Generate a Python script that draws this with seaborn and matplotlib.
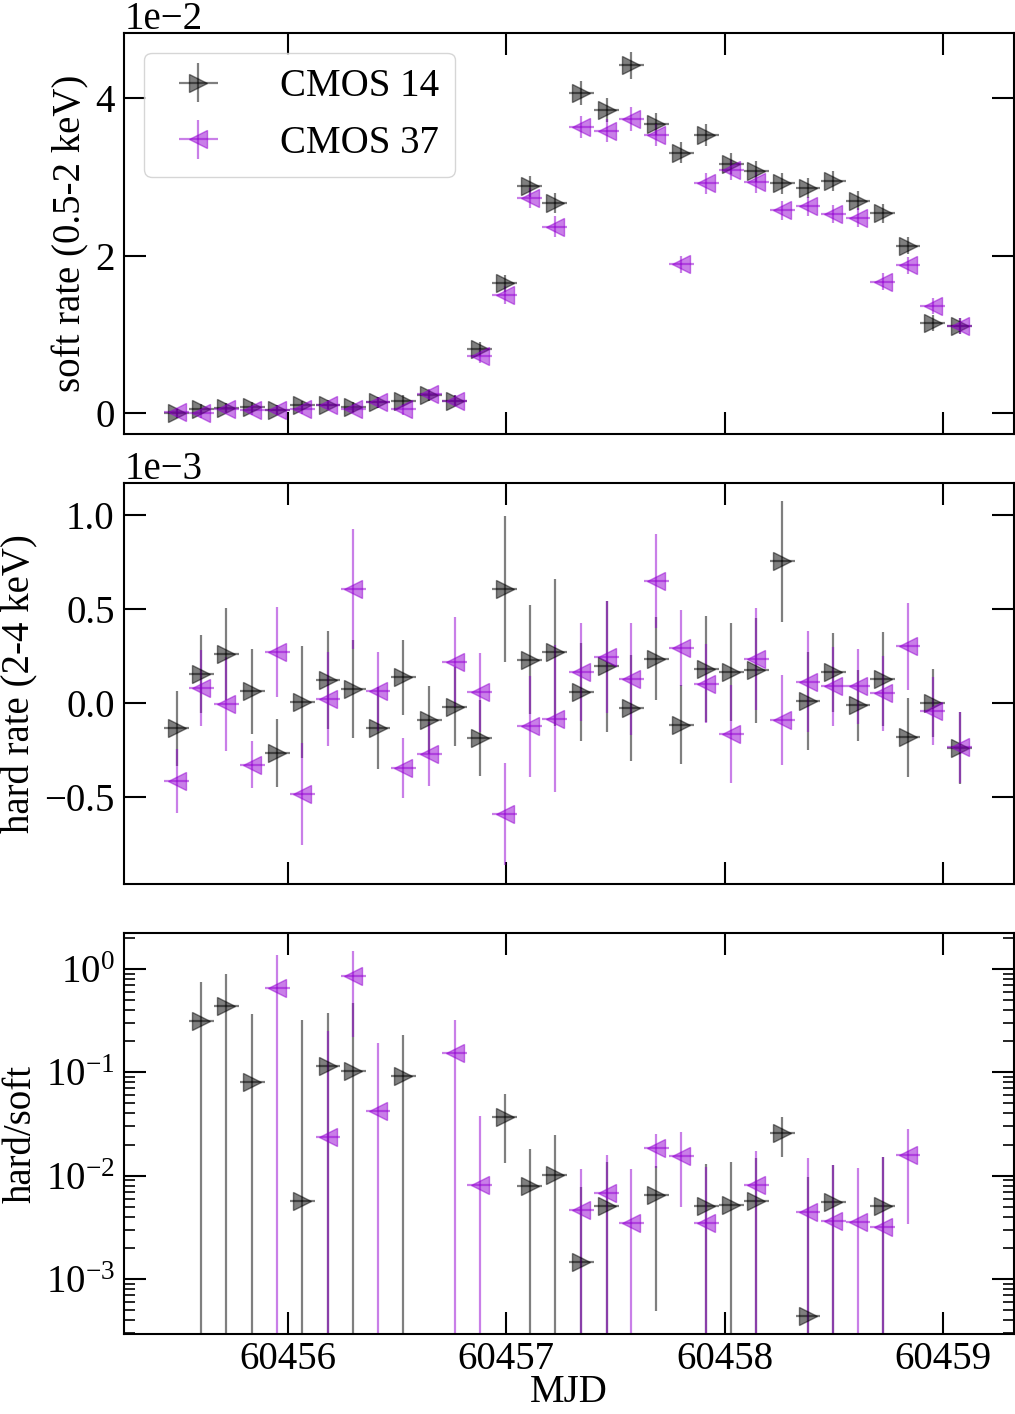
import numpy as np
import pandas as pd
import matplotlib
matplotlib.use("Agg")
import matplotlib.pyplot as plt
import seaborn as sns
from matplotlib.ticker import MultipleLocator, LogLocator, NullFormatter, ScalarFormatter

nan = np.nan

mjd = [60455.491, 60455.605, 60455.719, 60455.837, 60455.951, 60456.067, 60456.184, 60456.299,
       60456.413, 60456.528, 60456.647, 60456.764, 60456.879, 60456.993, 60457.108, 60457.222,
       60457.344, 60457.459, 60457.573, 60457.687, 60457.802, 60457.916, 60458.031, 60458.145,
       60458.264, 60458.381, 60458.496, 60458.610, 60458.724, 60458.839, 60458.953, 60459.076]
mjd_err = 0.057

# soft rate (0.5-2 keV), units of 1e-2
soft_14 = [0.00, 0.06, 0.07, 0.08, 0.04, 0.10, 0.11, 0.08, 0.14, 0.16, 0.23, 0.16, 0.82, 1.65, 2.88, 2.67,
           4.07, 3.85, 4.42, 3.67, 3.31, 3.53, 3.17, 3.07, 2.92, 2.86, 2.95, 2.70, 2.54, 2.13, 1.15, 1.11]
soft_14_err = [0.06, 0.06, 0.06, 0.06, 0.06, 0.06, 0.06, 0.06, 0.07, 0.07, 0.07, 0.07, 0.09, 0.11, 0.13, 0.13,
               0.15, 0.15, 0.17, 0.14, 0.13, 0.14, 0.13, 0.13, 0.13, 0.13, 0.13, 0.12, 0.12, 0.11, 0.10, 0.10]
soft_37 = [0.01, 0.00, 0.06, 0.04, 0.04, 0.05, 0.10, 0.06, 0.14, 0.05, 0.24, 0.16, 0.73, 1.50, 2.73, 2.37,
           3.63, 3.59, 3.74, 3.53, 1.89, 2.92, 3.09, 2.93, 2.58, 2.63, 2.53, 2.48, 1.67, 1.88, 1.36, 1.11]
soft_37_err = [0.06, 0.06, 0.06, 0.06, 0.06, 0.06, 0.06, 0.06, 0.07, 0.07, 0.07, 0.07, 0.09, 0.11, 0.13, 0.13,
               0.14, 0.14, 0.15, 0.14, 0.11, 0.13, 0.13, 0.13, 0.12, 0.12, 0.12, 0.12, 0.11, 0.11, 0.10, 0.10]

# hard rate (2-4 keV), units of 1e-3
hard_14 = [-0.135, 0.153, 0.26, 0.06, -0.268, 0.004, 0.119, 0.074, -0.135, 0.135, -0.09, -0.02, -0.188, 0.605, 0.229, 0.268,
           0.057, 0.193, -0.028, 0.234, -0.117, 0.18, 0.163, 0.172, 0.752, 0.011, 0.163, -0.014, 0.126, -0.184, -0.002, -0.241]
hard_14_err = [0.20, 0.205, 0.245, 0.225, 0.18, 0.30, 0.26, 0.26, 0.22, 0.20, 0.18, 0.21, 0.20, 0.39, 0.29, 0.39,
               0.26, 0.35, 0.28, 0.22, 0.21, 0.28, 0.26, 0.28, 0.32, 0.26, 0.21, 0.19, 0.25, 0.21, 0.18, 0.19]
hard_37 = [-0.415, 0.078, -0.005, -0.33, 0.268, -0.486, 0.021, 0.605, 0.06, -0.347, -0.273, 0.217, 0.057, -0.592, -0.126, -0.085,
           0.163, 0.243, 0.126, 0.65, 0.291, 0.10, -0.166, 0.234, -0.09, 0.113, 0.087, 0.087, 0.051, 0.30, -0.043, -0.238]
hard_37_err = [0.17, 0.20, 0.25, 0.125, 0.24, 0.27, 0.25, 0.32, 0.21, 0.16, 0.17, 0.24, 0.21, 0.27, 0.27, 0.39,
               0.26, 0.30, 0.30, 0.25, 0.20, 0.21, 0.26, 0.27, 0.24, 0.27, 0.21, 0.20, 0.20, 0.23, 0.18, 0.19]

# hard/soft ratio (only where shown)
ratio_14 = [nan, 0.31, 0.438, 0.080, nan, 0.00571, 0.116, 0.104, nan, 0.0927, nan, nan, nan, 0.0372, 0.0080, 0.0101,
            0.00147, 0.00508, nan, 0.00649, nan, 0.00512, 0.00519, 0.00571, 0.026, 0.000437, 0.00559, nan, 0.00508, nan, nan, nan]
ratio_14_err = [nan, 0.44, 0.457, 0.29, nan, 0.315, 0.256, 0.36, nan, 0.137, nan, nan, nan, 0.024, 0.010, 0.0146,
                0.0063, 0.0085, nan, 0.0060, nan, 0.0077, 0.0083, 0.009, 0.0108, 0.0093, 0.0071, nan, 0.0102, nan, nan, nan]
ratio_37 = [nan, nan, nan, nan, 0.659, nan, 0.0235, 0.861, 0.0422, nan, nan, 0.155, 0.0081, nan, nan, nan,
            0.00465, 0.00684, 0.00345, 0.0187, 0.0156, 0.00345, nan, 0.0081, nan, 0.00441, 0.00364, 0.00358, 0.0032, 0.0158, nan, nan]
ratio_37_err = [nan, nan, nan, nan, 0.69, nan, 0.23, 0.64, 0.148, nan, nan, 0.166, 0.0297, nan, nan, nan,
                0.007, 0.009, 0.0082, 0.0068, 0.0106, 0.0088, nan, 0.0092, nan, 0.0103, 0.009, 0.0083, 0.0118, 0.0124, nan, nan]

df = pd.DataFrame({
    "mjd": mjd,
    "soft_14": np.array(soft_14) * 1e-2, "soft_14_err": np.array(soft_14_err) * 1e-2,
    "soft_37": np.array(soft_37) * 1e-2, "soft_37_err": np.array(soft_37_err) * 1e-2,
    "hard_14": np.array(hard_14) * 1e-3, "hard_14_err": np.array(hard_14_err) * 1e-3,
    "hard_37": np.array(hard_37) * 1e-3, "hard_37_err": np.array(hard_37_err) * 1e-3,
    "ratio_14": ratio_14, "ratio_14_err": ratio_14_err,
    "ratio_37": ratio_37, "ratio_37_err": ratio_37_err,
})

sns.set_theme(style="ticks")
plt.rcParams['font.family'] = ['Liberation Serif', 'DejaVu Serif']
plt.rcParams['mathtext.fontset'] = 'stix'
plt.rcParams['font.size'] = 28
plt.rcParams['axes.linewidth'] = 1.5
plt.rcParams['axes.edgecolor'] = 'black'
plt.rcParams['text.color'] = 'black'
plt.rcParams['axes.labelcolor'] = 'black'
plt.rcParams['xtick.color'] = 'black'
plt.rcParams['ytick.color'] = 'black'

fig, axes = plt.subplots(3, 1, figsize=(10.15, 14.14), dpi=100, sharex=True)
fig.subplots_adjust(left=0.1225, right=0.999, top=0.9765, bottom=0.0565, hspace=0.122)

styles = [("14", "black", ">", "CMOS 14"), ("37", "darkviolet", "<", "CMOS 37")]
quantities = ["soft", "hard", "ratio"]

for ax, q in zip(axes, quantities):
    for cam, col, mk, lab in styles:
        ax.errorbar(df["mjd"], df[f"{q}_{cam}"], yerr=df[f"{q}_{cam}_err"], xerr=mjd_err,
                    fmt=mk, color=col, ms=13, elinewidth=1.6, alpha=0.5, label=lab)

# top panel
axes[0].set_ylabel("soft rate (0.5-2 keV)", fontsize=28)
axes[0].set_ylim(-0.00266, 0.04825)
axes[0].yaxis.set_major_locator(MultipleLocator(0.02))
axes[0].ticklabel_format(axis='y', style='sci', scilimits=(0, 0))
axes[0].legend(loc='upper left', fontsize=28, borderaxespad=0.5, handletextpad=1.1)

# middle panel
axes[1].set_ylabel("hard rate (2-4 keV)", fontsize=28)
axes[1].set_ylim(-0.965e-3, 1.168e-3)
axes[1].yaxis.set_major_locator(MultipleLocator(0.5e-3))
axes[1].ticklabel_format(axis='y', style='sci', scilimits=(0, 0))

# bottom panel
axes[2].set_yscale('log')
axes[2].set_ylim(2.93e-4, 2.22)
axes[2].yaxis.set_major_locator(LogLocator(base=10, numticks=10))
axes[2].yaxis.set_minor_locator(LogLocator(base=10, subs=np.arange(2, 10), numticks=10))
axes[2].yaxis.set_minor_formatter(NullFormatter())
axes[2].set_ylabel("hard/soft", fontsize=28)
axes[2].set_xlim(60455.252, 60459.324)
axes[2].xaxis.set_major_locator(MultipleLocator(1))
xfmt = ScalarFormatter(useOffset=False)
axes[2].xaxis.set_major_formatter(xfmt)

for ax in axes:
    ax.tick_params(which='major', direction='in', length=16, width=1.5, top=True, right=True,
                   labelsize=28, pad=7)
    ax.tick_params(which='minor', direction='in', length=8, width=1.2, top=True, right=True)
    ax.yaxis.get_offset_text().set_fontsize(28)
    for sp in ax.spines.values():
        sp.set_linewidth(1.5)

axes[2].tick_params(axis='x', pad=5)
axes[2].set_xlabel("MJD", fontsize=28, labelpad=-3)

plt.savefig("out.png", dpi=100)
